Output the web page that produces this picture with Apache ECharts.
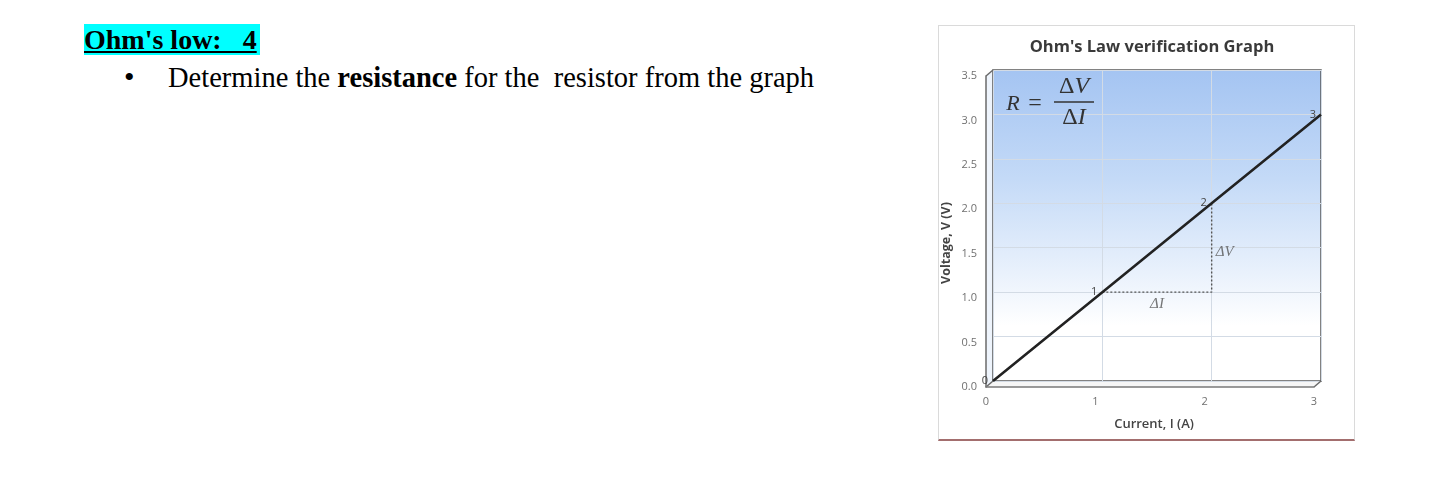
<!DOCTYPE html>
<html>
<head>
<meta charset="utf-8">
<script src="https://cdn.jsdelivr.net/npm/echarts@6/dist/echarts.min.js"></script>
<style>
  html, body { margin: 0; padding: 0; background: #ffffff; width: 1440px; height: 479px; overflow: hidden; }
  #heading {
    position: absolute; left: 84px; top: 24px; height: 31px; width: 176px;
    background: #00ffff; font-family: "Liberation Serif", serif; font-weight: bold;
    font-size: 28px; line-height: 31px; color: #000; white-space: pre;
    text-decoration: underline; text-decoration-thickness: 2px; text-underline-offset: 2px;
  }
  #task {
    position: absolute; left: 124px; top: 63px; font-family: "Liberation Serif", serif;
    font-size: 28.5px; line-height: 28px; color: #000; white-space: pre;
  }
  #task .bullet { display: inline-block; width: 44px; font-size: 30px; }
  #panel {
    position: absolute; left: 938px; top: 25px; width: 417px; height: 416px;
    border: 1px solid #dadada; border-bottom: 2px solid #a36e6e; box-sizing: border-box;
  }
  #chart { position: absolute; left: 0; top: 0; width: 1440px; height: 479px; }
</style>
</head>
<body>
<div id="heading">Ohm's low:   4</div>
<div id="task"><span class="bullet">•</span>Determine the <b>resistance</b> for the  resistor from the graph</div>
<div id="panel"></div>
<div id="chart"></div>
<script>
// ---- data ----
const chartTitle = "Ohm's Law verification Graph";
const xAxisName = "Current, I (A)";
const yAxisName = "Voltage, V (V)";
const currentValues = [0, 1, 2, 3];          // I (A)
const voltageValues = [0, 1.0, 2.0, 3.0];    // V (V)
const pointLabels = ["0", "1", "2", "3"];
const deltaPath = [[1, 1.0], [2, 1.0], [2, 2.0]];   // dotted ΔI / ΔV construction
const deltaLabels = [
  { name: "ΔI", value: [1.5, 1.0], pos: "bottom" },
  { name: "ΔV", value: [2, 1.45], pos: "right" }
];
const xMin = 0, xMax = 3, xStep = 1;
const yMin = 0, yMax = 3.5, yStep = 0.5;

// ---- chart ----
const chart = echarts.init(document.getElementById('chart'), null, { renderer: 'canvas' });
const lineData = currentValues.map((x, i) => [x, voltageValues[i]]);

const tickFont = { fontFamily: 'Open Sans', fontSize: 11, color: '#707070' };

const option = {
  backgroundColor: 'transparent',
  animation: false,
  title: {
    text: chartTitle, left: 1147, top: 34, textAlign: 'center',
    textStyle: { fontFamily: 'Open Sans', fontWeight: 'bold', fontSize: 16.5, color: '#3a3a3a' }
  },
  grid: [
    { // back wall
      left: 993, top: 70, width: 328, height: 311, show: true,
      borderColor: '#5a5a5a', borderWidth: 1.5,
      backgroundColor: {
        type: 'linear', x: 0, y: 0, x2: 0, y2: 1,
        colorStops: [
          { offset: 0, color: '#a4c4f2' },
          { offset: 0.35, color: '#c4daf7' },
          { offset: 0.65, color: '#e9f1fc' },
          { offset: 0.82, color: '#ffffff' },
          { offset: 1, color: '#ffffff' }
        ]
      }
    },
    { // front face (labels)
      left: 986, top: 76, width: 328, height: 311
    }
  ],
  xAxis: [
    { gridIndex: 0, type: 'value', min: xMin, max: xMax, interval: xStep,
      axisLine: { show: false }, axisTick: { show: false }, axisLabel: { show: false },
      splitLine: { show: true, lineStyle: { color: '#d3dbe5', width: 1 } } },
    { gridIndex: 1, type: 'value', min: xMin, max: xMax, interval: xStep,
      axisLine: { show: true, lineStyle: { color: '#7a7a7a', width: 1.5 } },
      axisTick: { show: false }, splitLine: { show: false },
      axisLabel: Object.assign({ margin: 9 }, tickFont) }
  ],
  yAxis: [
    { gridIndex: 0, type: 'value', min: yMin, max: yMax, interval: yStep,
      axisLine: { show: false }, axisTick: { show: false }, axisLabel: { show: false },
      splitLine: { show: true, lineStyle: { color: '#d3dbe5', width: 1 } } },
    { gridIndex: 1, type: 'value', min: yMin, max: yMax, interval: yStep,
      axisLine: { show: true, lineStyle: { color: '#6a6a6a', width: 1.5 } },
      axisTick: { show: false }, splitLine: { show: false },
      axisLabel: Object.assign({ margin: 9, formatter: v => v.toFixed(1) }, tickFont) }
  ],
  series: [
    { type: 'line', xAxisIndex: 0, yAxisIndex: 0, data: deltaPath, symbol: 'none',
      lineStyle: { color: '#555', width: 1.4, type: [2, 2] }, z: 3 },
    { type: 'line', xAxisIndex: 0, yAxisIndex: 0, data: lineData,
      symbol: 'circle', symbolSize: 0, showSymbol: true,
      lineStyle: { color: '#222', width: 2.6 }, z: 4,
      label: { show: true, position: 'left', distance: 5,
        formatter: p => pointLabels[p.dataIndex],
        fontFamily: 'Open Sans', fontSize: 11, color: '#444' } },
    { type: 'scatter', xAxisIndex: 0, yAxisIndex: 0, symbolSize: 0, z: 5,
      data: deltaLabels.map(d => ({ name: d.name, value: d.value,
        label: { position: d.pos } })),
      label: { show: true, formatter: p => p.name, distance: 4,
        fontFamily: 'Liberation Serif', fontStyle: 'italic', fontSize: 15, color: '#555' } }
  ]
};
chart.setOption(option);

// 3D frame decoration from axis pixel positions
const b00 = chart.convertToPixel({ xAxisIndex: 0, yAxisIndex: 0 }, [xMin, yMin]);
const b03 = chart.convertToPixel({ xAxisIndex: 0, yAxisIndex: 0 }, [xMin, yMax]);
const b30 = chart.convertToPixel({ xAxisIndex: 0, yAxisIndex: 0 }, [xMax, yMin]);
const f00 = chart.convertToPixel({ xAxisIndex: 1, yAxisIndex: 1 }, [xMin, yMin]);
const f03 = chart.convertToPixel({ xAxisIndex: 1, yAxisIndex: 1 }, [xMin, yMax]);
const f30 = chart.convertToPixel({ xAxisIndex: 1, yAxisIndex: 1 }, [xMax, yMin]);
const frameStroke = { stroke: '#6a6a6a', lineWidth: 1.5 };
const richFrac = {
  d: { fontFamily: 'Liberation Serif', fontSize: 24, fill: '#333' },
  v: { fontFamily: 'Liberation Serif', fontStyle: 'italic', fontSize: 24, fill: '#333' }
};

chart.setOption({
  graphic: [
    { type: 'polygon', z: -1, shape: { points: [f03, b03, b00, f00] },
      style: { fill: '#eef4fc', stroke: null } },
    { type: 'polygon', z: -1, shape: { points: [f00, b00, b30, f30] },
      style: { fill: '#f6f6f6', stroke: null } },
    { type: 'line', shape: { x1: f03[0], y1: f03[1], x2: b03[0], y2: b03[1] }, style: frameStroke },
    { type: 'line', shape: { x1: f00[0], y1: f00[1], x2: b00[0], y2: b00[1] }, style: frameStroke },
    { type: 'line', shape: { x1: f30[0], y1: f30[1], x2: b30[0], y2: b30[1] }, style: frameStroke },
    // formula R = ΔV / ΔI
    { type: 'text', x: 1013, y: 104,
      style: { text: 'R', fontFamily: 'Liberation Serif', fontStyle: 'italic', fontSize: 22, fill: '#333',
        align: 'center', verticalAlign: 'middle' } },
    { type: 'text', x: 1035, y: 104,
      style: { text: '=', fontFamily: 'Liberation Serif', fontSize: 24, fill: '#333',
        align: 'center', verticalAlign: 'middle' } },
    { type: 'text', x: 1074, y: 87,
      style: { text: '{d|Δ}{v|V}', rich: richFrac, align: 'center', verticalAlign: 'middle' } },
    { type: 'line', shape: { x1: 1054, y1: 102, x2: 1094, y2: 102 }, style: { stroke: '#333', lineWidth: 1.4 } },
    { type: 'text', x: 1074, y: 118,
      style: { text: '{d|Δ}{v|I}', rich: richFrac, align: 'center', verticalAlign: 'middle' } },
    // axis names
    { type: 'text', x: 946, y: 243, rotation: Math.PI / 2,
      style: { text: yAxisName, fontFamily: 'Open Sans', fontWeight: 'bold', fontSize: 12.5,
        fill: '#444', align: 'center', verticalAlign: 'middle' } },
    { type: 'text', x: 1154, y: 424,
      style: { text: xAxisName, fontFamily: 'Open Sans', fontWeight: 600, fontSize: 13,
        fill: '#444', align: 'center', verticalAlign: 'middle' } }
  ]
});
</script>
</body>
</html>
